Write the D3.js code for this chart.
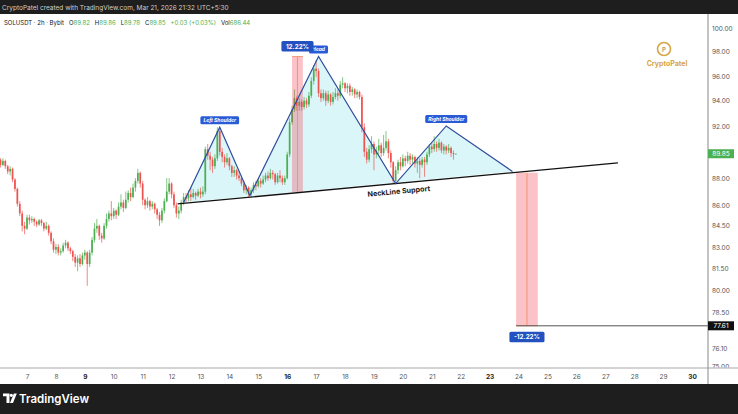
<!DOCTYPE html>
<html>
<head>
<meta charset="utf-8">
<script src="https://cdn.jsdelivr.net/npm/d3@7/dist/d3.min.js"></script>
<style>
  html, body { margin: 0; padding: 0; background: #fff; }
  svg { display: block; font-family: Inter, "Noto Sans", sans-serif; }
</style>
</head>
<body>
<svg class="chart-svg" width="738" height="414"></svg>
<script>
// SOLUSDT 2h candles (open = previous close)
var firstCandle = "2026-03-06T02:00";
var firstOpen = 89.4;
var closes = [
  89.0, 89.3, 88.9, 88.5, 88.7, 87.9, 87.2, 86.1, 85.4, 84.5,
  84.3, 85.1, 84.9, 85.0, 84.8, 84.6, 84.9, 84.7, 84.3, 84.5,
  84.0, 83.4, 82.8, 83.0, 82.6, 82.7, 83.1, 83.3, 82.9, 82.7,
  82.3, 81.9, 82.2, 81.8, 82.4, 82.6, 81.8, 82.6, 83.5, 84.3,
  84.5, 83.8, 83.6, 84.5, 85.0, 85.4, 85.2, 85.6, 85.3, 85.9,
  86.2, 85.8, 86.4, 86.9, 86.6, 87.3, 87.8, 88.4, 87.6, 86.4,
  86.0, 86.3, 85.9, 86.1, 85.7, 85.3, 84.9, 85.6, 86.3, 87.0,
  87.6, 86.8, 86.0, 85.4, 85.6, 86.2, 86.6, 86.5, 86.8, 86.6,
  86.9, 86.7, 87.0, 86.8, 87.0, 90.2, 89.7, 89.4, 88.9, 89.5,
  91.6, 90.0, 89.6, 89.2, 89.5, 88.9, 88.4, 88.6, 88.2, 88.0,
  87.6, 87.1, 87.3, 86.8, 87.1, 87.5, 87.4, 87.8, 87.6, 87.9,
  88.2, 88.0, 88.4, 88.3, 87.7, 88.2, 88.0, 87.7, 88.0, 89.8,
  92.3, 93.3, 94.2, 93.6, 93.9, 93.5, 94.0, 93.7, 94.4, 95.6,
  96.6, 96.4, 94.6, 94.2, 94.6, 94.0, 94.5, 93.9, 94.3, 94.6,
  94.4, 95.3, 95.4, 95.0, 95.2, 94.7, 94.9, 94.5, 94.7, 94.3,
  91.9, 90.0, 89.4, 90.2, 90.6, 89.8, 90.1, 90.5, 89.9, 90.3,
  90.8, 89.9, 89.2, 87.8, 88.6, 89.2, 88.9, 89.5, 89.3, 89.7,
  89.4, 89.6, 89.1, 89.3, 89.0, 89.4, 89.2, 89.8, 90.4, 90.2,
  90.6, 90.3, 90.7, 90.1, 90.4, 90.1, 90.3, 89.9, 89.82, 89.85
];
var highs = [
  89.5, 89.5, 89.4, 89.0, 88.9, 88.8, 88.0, 87.3, 86.3, 85.6,
  84.8, 85.3, 85.3, 85.2, 85.1, 84.9, 85.0, 85.0, 84.8, 84.8,
  84.6, 84.1, 83.6, 83.2, 83.2, 82.9, 83.3, 83.5, 83.4, 83.0,
  82.8, 82.5, 82.4, 82.5, 82.6, 82.8, 82.7, 82.8, 83.7, 84.7,
  85.0, 84.6, 84.0, 84.7, 85.4, 85.6, 86.3, 85.8, 85.7, 86.2,
  86.8, 86.4, 87.0, 87.1, 87.3, 87.6, 88.0, 88.7, 88.5, 87.8,
  86.5, 86.6, 86.4, 86.3, 86.2, 85.8, 85.5, 85.8, 86.5, 88.0,
  88.0, 87.7, 87.0, 86.2, 85.9, 86.4, 86.9, 86.9, 87.1, 87.3,
  87.2, 87.0, 87.2, 87.3, 87.4, 90.4, 90.6, 90.0, 89.6, 89.8,
  91.9, 91.8, 90.3, 89.8, 89.9, 89.6, 89.0, 88.9, 88.7, 88.5,
  88.2, 87.8, 87.5, 87.4, 87.3, 87.7, 87.8, 88.0, 88.0, 88.2,
  88.4, 88.5, 88.7, 88.6, 88.4, 88.4, 88.6, 88.2, 88.2, 90.0,
  92.6, 93.6, 94.9, 94.4, 94.2, 94.1, 94.3, 94.2, 94.7, 95.9,
  96.9, 97.3, 96.6, 94.9, 94.9, 94.8, 94.8, 94.6, 94.7, 95.0,
  94.9, 95.6, 95.9, 95.5, 95.4, 95.4, 95.1, 95.0, 94.9, 94.8,
  94.5, 92.2, 90.3, 90.5, 91.2, 90.8, 90.4, 91.0, 90.7, 91.3,
  91.6, 91.0, 90.1, 89.3, 88.9, 89.4, 89.6, 89.8, 89.7, 90.0,
  89.9, 89.8, 89.7, 89.6, 89.5, 89.6, 89.6, 90.0, 90.6, 90.7,
  91.2, 90.8, 91.0, 90.8, 90.6, 90.5, 90.6, 90.4, 90.1, 89.86
];
var lows = [
  88.8, 88.9, 88.7, 88.3, 88.2, 87.7, 87.0, 85.9, 85.2, 84.1,
  83.9, 84.2, 84.6, 84.7, 84.5, 84.4, 84.5, 84.5, 84.1, 84.2,
  83.8, 83.2, 82.6, 82.5, 82.4, 82.4, 82.6, 82.9, 82.7, 82.5,
  82.0, 81.6, 81.3, 81.6, 81.7, 82.1, 80.3, 81.6, 82.4, 83.3,
  84.0, 83.5, 83.3, 83.5, 84.3, 84.8, 84.9, 85.0, 85.0, 85.2,
  85.7, 85.5, 85.7, 86.2, 86.3, 86.5, 87.0, 87.6, 87.3, 86.0,
  85.7, 85.8, 85.6, 85.7, 85.4, 85.0, 84.5, 84.7, 85.4, 86.2,
  86.8, 86.5, 85.8, 85.1, 85.0, 85.4, 86.0, 86.2, 86.3, 86.3,
  86.5, 86.4, 86.6, 86.5, 86.6, 86.8, 89.4, 88.6, 88.4, 88.7,
  89.3, 89.7, 89.2, 88.8, 89.0, 88.6, 88.1, 88.1, 87.9, 87.8,
  87.4, 86.9, 86.8, 86.6, 86.6, 86.9, 87.1, 87.3, 87.3, 87.5,
  87.7, 87.8, 87.9, 87.9, 87.5, 87.6, 87.7, 87.5, 87.5, 87.9,
  89.6, 92.1, 93.1, 93.2, 93.2, 93.2, 93.3, 93.4, 93.5, 94.2,
  95.3, 95.9, 94.3, 93.9, 94.0, 93.6, 93.8, 93.6, 93.7, 94.1,
  94.0, 94.2, 95.0, 94.7, 94.6, 94.4, 94.4, 94.2, 94.2, 94.1,
  91.5, 89.6, 89.1, 89.2, 89.9, 88.6, 89.5, 89.8, 89.6, 89.7,
  90.1, 89.5, 88.8, 87.6, 87.6, 88.3, 88.6, 88.8, 88.9, 89.1,
  89.0, 89.1, 88.8, 88.4, 88.0, 88.8, 88.1, 89.0, 89.6, 89.9,
  90.0, 90.0, 90.1, 89.9, 89.8, 89.8, 89.9, 89.6, 89.4, 89.78
];
var lastVolume = 686.44;

// Axis ticks (90.00 and 77.30 sit under the price tags)
var priceTicks = [100, 98, 96, 94, 92, 88, 86, 84.5, 83, 81.5, 80, 78.5, 76.1, 75];
var firstDay = "2026-03-07T00:00";
var lastDay = "2026-03-30T00:00";

// Head and shoulders drawing
var patternLabels = ["", "Left Shoulder", "", "Head", "", "Right Shoulder", ""];
var patternTimes = ["2026-03-12T10:00", "2026-03-13T16:00", "2026-03-14T17:00", "2026-03-17T02:00",
                    "2026-03-19T18:00", "2026-03-21T12:00", "2026-03-23T19:00"];
var patternPrices = [86.2, 91.9, 86.7, 97.6, 87.6, 92.0, 88.5];
var necklineTimes = ["2026-03-12T05:00", "2026-03-27T10:30"];
var necklinePrices = [86.1, 89.15];
var necklineLabel = "NeckLine Support";
var necklineLabelTime = "2026-03-19T20:00";

// Price range measurements
var rangeStart = ["2026-03-16T04:00", "2026-03-23T22:00"];
var rangeEnd = ["2026-03-16T13:00", "2026-03-24T16:00"];
var rangeFrom = [86.97, 88.41];
var rangeTo = [97.6, 77.61];

var svg = d3.select(".chart-svg");
var parseTime = d3.utcParse("%Y-%m-%dT%H:%M");
var t0 = parseTime(firstCandle);

var candles = closes.map(function(c, i) {
    return {
        time: d3.utcHour.offset(t0, i * 2),
        open: i === 0 ? firstOpen : closes[i - 1],
        high: highs[i],
        low: lows[i],
        close: c
    };
});
var last = candles[candles.length - 1];
var prev = candles[candles.length - 2];

// Scales: time on x, log price on y
var xScale = d3.scaleUtc()
    .domain([parseTime(firstDay), parseTime(lastDay)])
    .range([27, 692]);
var yScale = d3.scaleLog()
    .domain([75, 100])
    .range([366, 28]);

var upColor = "#4caf50", downColor = "#ef5350";
var axisX = 708, plotTop = 14, plotBottom = 368;

svg.append("rect").attr("width", 738).attr("height", 414).attr("fill", "#fff");

var defs = svg.append("defs");
defs.append("clipPath").attr("id", "plot-clip")
    .append("rect").attr("x", 0).attr("y", plotTop).attr("width", axisX).attr("height", plotBottom - plotTop);

var plot = svg.append("g").attr("clip-path", "url(#plot-clip)");

// Pattern fill
var pts = patternTimes.map(function(t, i) { return [xScale(parseTime(t)), yScale(patternPrices[i])]; });
plot.append("path")
    .attr("d", d3.line()(pts) + "Z")
    .attr("fill", "rgba(0,188,212,0.14)");

// Candles
var cg = plot.append("g");
cg.selectAll("line")
    .data(candles)
    .enter()
    .append("line")
    .attr("x1", d => xScale(d.time))
    .attr("x2", d => xScale(d.time))
    .attr("y1", d => yScale(Math.max(d.high, d.open, d.close)))
    .attr("y2", d => yScale(Math.min(d.low, d.open, d.close)))
    .attr("stroke", d => d.close >= d.open ? upColor : downColor)
    .attr("stroke-width", 0.7);
cg.selectAll("rect")
    .data(candles)
    .enter()
    .append("rect")
    .attr("x", d => xScale(d.time) - 0.85)
    .attr("width", 1.7)
    .attr("y", d => yScale(Math.max(d.open, d.close)))
    .attr("height", d => Math.max(0.6, Math.abs(yScale(d.open) - yScale(d.close))))
    .attr("fill", d => d.close >= d.open ? upColor : downColor);

// Price ranges
rangeStart.forEach(function(s, i) {
    var x0 = xScale(parseTime(s)), x1 = xScale(parseTime(rangeEnd[i]));
    var yFrom = yScale(rangeFrom[i]), yTo = yScale(rangeTo[i]);
    var top = Math.min(yFrom, yTo), bot = Math.max(yFrom, yTo);
    var cx = (x0 + x1) / 2;
    plot.append("rect")
        .attr("x", x0).attr("y", top).attr("width", x1 - x0).attr("height", bot - top)
        .attr("fill", "rgba(242,54,69,0.3)");
    plot.append("line")
        .attr("x1", cx).attr("x2", cx).attr("y1", yFrom).attr("y2", yTo)
        .attr("stroke", "#f08a5d").attr("stroke-width", 0.8);
    plot.append("line")
        .attr("x1", x0).attr("x2", x1).attr("y1", yTo).attr("y2", yTo)
        .attr("stroke", "#f08a5d").attr("stroke-width", 0.8);
});

// Target level line
var yTarget = yScale(rangeTo[1]);
plot.append("line")
    .attr("x1", xScale(parseTime(rangeStart[1]))).attr("x2", axisX)
    .attr("y1", yTarget).attr("y2", yTarget)
    .attr("stroke", "#555").attr("stroke-width", 1);

// Neckline
var n0 = [xScale(parseTime(necklineTimes[0])), yScale(necklinePrices[0])];
var n1 = [xScale(parseTime(necklineTimes[1])), yScale(necklinePrices[1])];
plot.append("line")
    .attr("x1", n0[0]).attr("y1", n0[1]).attr("x2", n1[0]).attr("y2", n1[1])
    .attr("stroke", "#111").attr("stroke-width", 1.3);

// Pattern outline
plot.append("path")
    .attr("d", d3.line()(pts))
    .attr("fill", "none")
    .attr("stroke", "#2e4d9c")
    .attr("stroke-width", 1.2);

// Neckline label, rotated along the line
var angle = Math.atan2(n1[1] - n0[1], n1[0] - n0[0]) * 180 / Math.PI;
var lx = xScale(parseTime(necklineLabelTime));
var ly = n0[1] + (lx - n0[0]) * (n1[1] - n0[1]) / (n1[0] - n0[0]);
plot.append("text")
    .attr("transform", `translate(${lx},${ly}) rotate(${angle})`)
    .attr("y", 10.5)
    .attr("text-anchor", "middle")
    .attr("font-size", 7.2)
    .attr("font-weight", 700)
    .attr("fill", "#1a1a1a")
    .text(necklineLabel);

// Pattern point labels
function labelBox(parent, x, y, txt, opts) {
    var g = parent.append("g");
    var t = g.append("text")
        .attr("x", x).attr("text-anchor", "middle")
        .attr("font-size", opts.size)
        .attr("font-weight", 700)
        .attr("font-style", opts.italic ? "italic" : "normal")
        .attr("fill", "#fff")
        .text(txt);
    var w = t.node().getComputedTextLength() + opts.pad * 2;
    var top = opts.above ? y - opts.h : y;
    g.insert("rect", "text")
        .attr("x", x - w / 2).attr("y", top).attr("width", w).attr("height", opts.h)
        .attr("rx", 1.5).attr("fill", opts.fill);
    t.attr("y", top + opts.h / 2 + opts.size * 0.36);
}
pts.forEach(function(p, i) {
    if (!patternLabels[i]) return;
    labelBox(plot, p[0], p[1] - 3, patternLabels[i], { size: 5, pad: 3, h: 8, above: true, italic: true, fill: "#2a5bd7" });
});

// Range percentage labels
rangeStart.forEach(function(s, i) {
    var cx = (xScale(parseTime(s)) + xScale(parseTime(rangeEnd[i]))) / 2;
    var pct = (rangeTo[i] - rangeFrom[i]) / rangeFrom[i] * 100;
    var up = pct > 0;
    var yEdge = yScale(rangeTo[i]);
    labelBox(plot, cx, up ? yEdge - 5 : yEdge + 6, pct.toFixed(2) + "%",
        { size: 6.3, pad: 4.5, h: 10.5, above: up, italic: false, fill: "#2352c0" });
});

// Price axis
var yAxis = d3.axisRight(yScale)
    .tickValues(priceTicks)
    .tickFormat(d3.format(".2f"))
    .tickSize(0)
    .tickPadding(4);
var ya = svg.append("g").attr("transform", `translate(${axisX},0)`).call(yAxis);
ya.select(".domain").remove();
ya.attr("font-family", null).attr("font-size", null);
ya.selectAll("text").attr("fill", "#555").attr("font-size", 6.5);

// Time axis
svg.append("rect").attr("x", 0).attr("y", plotBottom).attr("width", 738).attr("height", 16).attr("fill", "#fff");
var xAxis = d3.axisBottom(xScale)
    .ticks(d3.utcDay.every(1))
    .tickFormat(d3.utcFormat("%-d"))
    .tickSize(0)
    .tickPadding(6);
var xa = svg.append("g").attr("transform", `translate(0,${plotBottom})`).call(xAxis);
xa.select(".domain").remove();
xa.attr("font-family", null).attr("font-size", null);
xa.selectAll("text")
    .attr("font-size", 6.5)
    .attr("fill", d => d.getUTCDay() === 1 ? "#222" : "#555")
    .attr("font-weight", d => d.getUTCDay() === 1 ? 700 : 400);

svg.append("line")
    .attr("x1", 0).attr("x2", 738).attr("y1", plotBottom).attr("y2", plotBottom)
    .attr("stroke", "#c4c4c4").attr("stroke-width", 1.5);
svg.append("line")
    .attr("x1", axisX).attr("x2", axisX).attr("y1", plotTop).attr("y2", 384)
    .attr("stroke", "#888").attr("stroke-width", 1);

// Axis price tags
function priceTag(price, fill) {
    var yy = yScale(price);
    svg.append("rect").attr("x", axisX).attr("y", yy - 4.5).attr("width", 26).attr("height", 9).attr("fill", fill);
    svg.append("text").attr("x", axisX + 13).attr("y", yy + 2.3).attr("text-anchor", "middle")
        .attr("font-size", 6.5).attr("fill", "#fff").text(price.toFixed(2));
}
priceTag(last.close, upColor);
priceTag(rangeTo[1], "#111");

// Symbol legend, laid out one field after another
var chg = last.close - prev.close;
var fields = [
    ["SOLUSDT · 2h · Bybit", ""],
    ["O", last.open.toFixed(2)],
    ["H", last.high.toFixed(2)],
    ["L", last.low.toFixed(2)],
    ["C", last.close.toFixed(2)],
    ["", d3.format("+.2f")(chg) + " (" + d3.format("+.2f")(chg / prev.close * 100) + "%)"],
    ["Vol", lastVolume.toFixed(2)]
];
var lg = svg.append("g").attr("font-size", 6).attr("fill", "#131722");
var cursor = 4;
fields.forEach(function(f) {
    var t = lg.append("text").attr("x", cursor).attr("y", 25);
    if (f[0]) t.append("tspan").text(f[0]);
    if (f[1]) t.append("tspan").attr("fill", upColor).text(f[1]);
    cursor += t.node().getComputedTextLength() + 5;
});

// Watermark logo
svg.append("circle").attr("cx", 664).attr("cy", 49).attr("r", 6.5)
    .attr("fill", "none").attr("stroke", "#d6a646").attr("stroke-width", 1.6);
svg.append("text").attr("x", 664).attr("y", 51.5).attr("text-anchor", "middle")
    .attr("font-size", 6).attr("font-weight", 700).attr("fill", "#b9a06a").text("P");
svg.append("text").attr("x", 667).attr("y", 66).attr("text-anchor", "middle")
    .attr("font-size", 7).attr("font-weight", 700).attr("fill", "#d8a444").text("CryptoPatel");

// Top and bottom bars
svg.append("rect").attr("width", 738).attr("height", plotTop).attr("fill", "#1e1e1e");
svg.append("text").attr("x", 2).attr("y", 10).attr("font-size", 6.5).attr("fill", "#cfcfcf")
    .text("CryptoPatel created with TradingView.com, Mar 21, 2026 21:32 UTC+5:30");
svg.append("rect").attr("y", 384).attr("width", 738).attr("height", 30).attr("fill", "#1e1e1e");
var logo = svg.append("g").attr("fill", "#fff");
logo.append("path").attr("d", "M3 393.5h6.5v9.5h-3v-6.8h-3.5z");
logo.append("circle").attr("cx", 11.3).attr("cy", 395.3).attr("r", 1.6);
logo.append("path").attr("d", "M13.8 393.5h3l-3.8 9.5h-3z");
logo.append("text").attr("x", 19).attr("y", 402.5).attr("font-size", 11.5).attr("font-weight", 600).text("TradingView");
</script>
</body>
</html>
